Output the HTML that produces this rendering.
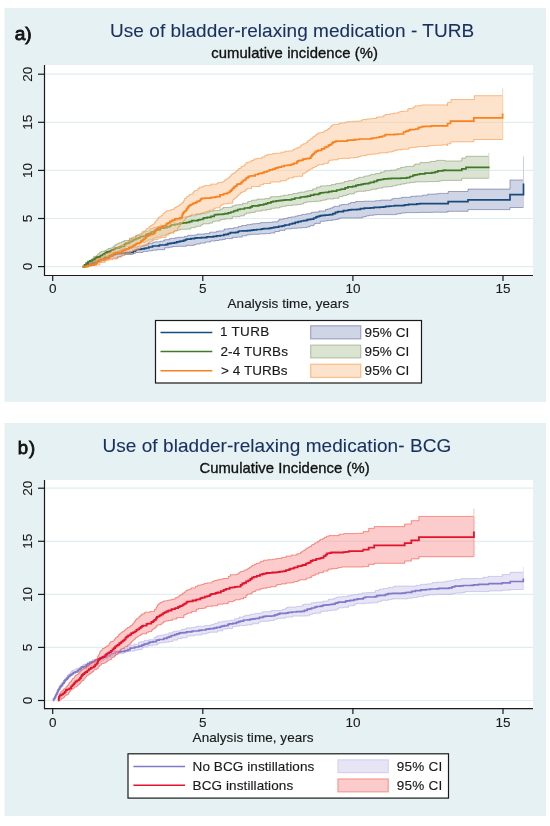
<!DOCTYPE html><html><head><meta charset="utf-8"><style>html,body{margin:0;padding:0;background:#fff;}svg{display:block;will-change:transform;}text{font-family:"Liberation Sans",sans-serif;}</style></head><body>
<svg width="550" height="826" viewBox="0 0 550 826">
<rect width="550" height="826" fill="#fff"/>
<rect x="4.5" y="8" width="541.5" height="394" fill="#e6f1f3"/>
<rect x="45" y="65" width="488" height="210" fill="#fff"/>
<line x1="45" x2="533" y1="266.6" y2="266.6" stroke="#e1eef0" stroke-width="1.2"/>
<line x1="45" x2="533" y1="218.5" y2="218.5" stroke="#e1eef0" stroke-width="1.2"/>
<line x1="45" x2="533" y1="170.4" y2="170.4" stroke="#e1eef0" stroke-width="1.2"/>
<line x1="45" x2="533" y1="122.3" y2="122.3" stroke="#e1eef0" stroke-width="1.2"/>
<line x1="45" x2="533" y1="74.2" y2="74.2" stroke="#e1eef0" stroke-width="1.2"/>
<path d="M82.7 266.6L83.9 266.6L83.9 266.4L85.8 266.4L85.8 264.7L87.4 264.7L87.4 263.7L89.2 263.7L89.2 263.1L90.3 263.1L90.3 261.6L92.3 261.6L92.3 260.5L94.2 260.5L94.2 258.7L97.2 258.7L97.2 258.1L104.3 258.1L104.3 255.4L105.4 255.4L105.4 255.2L110.6 255.2L110.6 253.2L112.6 253.2L112.6 252.7L113.7 252.7L113.7 252L116.7 252L116.7 251.4L118.7 251.4L118.7 250.5L120.7 250.5L120.7 250.1L123 250.1L123 248.9L127.8 248.9L127.8 248.2L131.7 248.2L131.7 247.1L137.2 247.1L137.2 246.6L138.7 246.6L138.7 246L142.9 246L142.9 245.1L148.2 245.1L148.2 243.3L152.9 243.3L152.9 242.2L155.3 242.2L155.3 241.8L160.2 241.8L160.2 241.2L163.5 241.2L163.5 240.5L164.7 240.5L164.7 239.7L169.2 239.7L169.2 238.7L171 238.7L171 238.4L175.2 238.4L175.2 237.8L177.9 237.8L177.9 237.3L181.2 237.3L181.2 237.2L184.5 237.2L184.5 236.4L187.7 236.4L187.7 235.3L194.3 235.3L194.3 235L197.1 235L197.1 234.1L204.8 234.1L204.8 233.6L209.7 233.6L209.7 232.2L216.6 232.2L216.6 231.3L218.8 231.3L218.8 230.9L224.1 230.9L224.1 229L228.7 229L228.7 228.5L233.6 228.5L233.6 227.7L238.3 227.7L238.3 226.5L241.8 226.5L241.8 225.5L246.6 225.5L246.6 224.7L249.9 224.7L249.9 224.3L252.5 224.3L252.5 223.8L255.9 223.8L255.9 223.6L259.7 223.6L259.7 223.1L260.8 223.1L260.8 222.6L267.5 222.6L267.5 222.4L272.1 222.4L272.1 221.9L274.2 221.9L274.2 221.8L278.3 221.8L278.3 220.2L279.3 220.2L279.3 219.3L283.7 219.3L283.7 218.4L287.8 218.4L287.8 217.5L289.5 217.5L289.5 217.4L291.2 217.4L291.2 216.9L295.4 216.9L295.4 216.1L297.9 216.1L297.9 215.6L299 215.6L299 215.4L301.9 215.4L301.9 214.4L306.7 214.4L306.7 213.7L310.4 213.7L310.4 213.3L311.5 213.3L311.5 212.3L314.9 212.3L314.9 212.1L318.9 212.1L318.9 211L325.5 211L325.5 209.5L327.5 209.5L327.5 208.9L330.3 208.9L330.3 208L332.7 208L332.7 207.2L334 207.2L334 206.4L339.4 206.4L339.4 205L341.7 205L341.7 204.6L344.1 204.6L344.1 204.4L348.5 204.4L348.5 203.6L350.6 203.6L350.6 202.5L355.6 202.5L355.6 201.5L363.8 201.5L363.8 201.2L375.6 201.2L375.6 200.7L380.5 200.7L380.5 200.1L391.8 200.1L391.8 198.9L393.7 198.9L393.7 198.4L399.1 198.4L399.1 198.2L401.7 198.2L401.7 197.3L410.9 197.3L410.9 196.3L415.9 196.3L415.9 196L422.5 196L422.5 195.2L427.6 195.2L427.6 194.2L432 194.2L432 194.1L436.8 194.1L436.8 193.7L439.3 193.7L439.3 193.4L448.2 193.4L448.2 193.5L448.2 193.5L448.2 191.5L468 191.5L468 189.1L510 189.1L510 180L523.5 180L523.5 180L523.5 207.5L523.5 207.5L510 207.5L510 209.6L468 209.6L468 211.3L448.2 211.3L448.2 212L448.2 212L448.2 211.6L447.3 211.6L447.3 212.2L432.7 212.2L432.7 212.4L418.2 212.4L418.2 212.6L405.7 212.6L405.7 213L401.1 213L401.1 213.7L399.3 213.7L399.3 213.9L396.4 213.9L396.4 214.6L376.8 214.6L376.8 214.8L374.8 214.8L374.8 215L373.3 215L373.3 215.3L369.1 215.3L369.1 215.9L366.2 215.9L366.2 216.6L365.2 216.6L365.2 216.9L362.3 216.9L362.3 217.9L358.1 217.9L358.1 218L340.2 218L340.2 218.4L339 218.4L339 219.2L336.3 219.2L336.3 219.8L332.6 219.8L332.6 220.4L327.3 220.4L327.3 221L324 221L324 221.3L320.3 221.3L320.3 223.4L315.4 223.4L315.4 224L313.9 224L313.9 225.7L310 225.7L310 226.9L306.8 226.9L306.8 227.6L302 227.6L302 228L296.9 228L296.9 228.3L292.5 228.3L292.5 228.5L291.3 228.5L291.3 228.9L286 228.9L286 229.1L284.9 229.1L284.9 230.4L279.4 230.4L279.4 231.5L274.9 231.5L274.9 233L270.2 233L270.2 233.6L266.6 233.6L266.6 233.7L264.8 233.7L264.8 233.9L258.8 233.9L258.8 234.3L250.5 234.3L250.5 234.8L246.6 234.8L246.6 235.8L242.2 235.8L242.2 237.1L237.1 237.1L237.1 237.4L232.4 237.4L232.4 238.6L225.3 238.6L225.3 239.4L222.9 239.4L222.9 239.9L219 239.9L219 240.5L215.7 240.5L215.7 241L210.4 241L210.4 242L205.3 242L205.3 243.1L200.2 243.1L200.2 244L196.1 244L196.1 244.7L194.1 244.7L194.1 245.4L186.3 245.4L186.3 246.3L178.6 246.3L178.6 246.4L175.4 246.4L175.4 246.5L172.2 246.5L172.2 247.2L169.1 247.2L169.1 247.8L164.7 247.8L164.7 249.7L156.8 249.7L156.8 250.2L152.4 250.2L152.4 250.8L148 250.8L148 251.4L143 251.4L143 252.5L135.7 252.5L135.7 253.3L133.2 253.3L133.2 254.3L131.2 254.3L131.2 254.5L125.1 254.5L125.1 255.1L122 255.1L122 256L120.8 256L120.8 257L117.8 257L117.8 258.2L112.6 258.2L112.6 258.3L108.3 258.3L108.3 259.2L105.4 259.2L105.4 260.8L101.8 260.8L101.8 261.8L98 261.8L98 263.4L94 263.4L94 264.5L89.3 264.5L89.3 265.6L88 265.6L88 266.6L82.7 266.6Z" fill="#a1abcb" fill-opacity="0.5" stroke="#475591" stroke-opacity="0.5" stroke-width="1" stroke-linejoin="miter"/>
<line x1="523.5" x2="523.5" y1="156.3" y2="208" stroke="#ccd0e1" stroke-width="1"/>
<path d="M82.7 266.6L85.3 266.6L85.3 265.7L88.4 265.7L88.4 264.7L91.3 264.7L91.3 263.7L92.4 263.7L92.4 262.9L95.8 262.9L95.8 261.4L99.2 261.4L99.2 259.7L101.4 259.7L101.4 258.6L103.8 258.6L103.8 257.9L104.8 257.9L104.8 257.3L109.6 257.3L109.6 255.8L112.6 255.8L112.6 254.7L115.2 254.7L115.2 253.8L117.8 253.8L117.8 253.6L121.3 253.6L121.3 253.2L125.5 253.2L125.5 252.7L129.8 252.7L129.8 252.4L133.2 252.4L133.2 251.2L135.1 251.2L135.1 250.3L136.5 250.3L136.5 249.5L138.3 249.5L138.3 249.4L141.1 249.4L141.1 248.9L144.3 248.9L144.3 248.3L146.1 248.3L146.1 248L148.9 248L148.9 247L152.5 247L152.5 246L158.4 246L158.4 245.8L159.4 245.8L159.4 245L165.8 245L165.8 244.6L167.7 244.6L167.7 243.7L170.1 243.7L170.1 243.3L171.4 243.3L171.4 243.1L174.4 243.1L174.4 242.6L176.8 242.6L176.8 241.8L179.4 241.8L179.4 241.4L181.2 241.4L181.2 241.2L183.7 241.2L183.7 240.4L185.5 240.4L185.5 239.6L186.7 239.6L186.7 239.1L190.9 239.1L190.9 238.6L194.5 238.6L194.5 238.2L196.5 238.2L196.5 237.8L201.3 237.8L201.3 237.7L206.7 237.7L206.7 236.8L213.5 236.8L213.5 236.3L216.6 236.3L216.6 235.9L220.2 235.9L220.2 235.5L223.8 235.5L223.8 234.6L226 234.6L226 234.3L228.3 234.3L228.3 233.5L230.3 233.5L230.3 232.7L235.8 232.7L235.8 232.3L238.1 232.3L238.1 231.5L239.3 231.5L239.3 231L242.4 231L242.4 230.9L244.3 230.9L244.3 230.8L247.3 230.8L247.3 230.6L250.1 230.6L250.1 230.4L252 230.4L252 230.2L253.7 230.2L253.7 229.8L256.7 229.8L256.7 229.5L261.2 229.5L261.2 229.2L262.2 229.2L262.2 228.9L263.9 228.9L263.9 228.7L266.1 228.7L266.1 228.6L268.8 228.6L268.8 228.3L270.7 228.3L270.7 227.8L273.6 227.8L273.6 227.4L275.5 227.4L275.5 227.2L278.7 227.2L278.7 226.4L282.3 226.4L282.3 225.9L284.6 225.9L284.6 225.2L286.1 225.2L286.1 225L289.5 225L289.5 224L292.3 224L292.3 223.4L295.2 223.4L295.2 222.3L298.2 222.3L298.2 221.7L301 221.7L301 221L303.6 221L303.6 220.7L306.2 220.7L306.2 220.3L307.3 220.3L307.3 219.6L309.5 219.6L309.5 219.4L311 219.4L311 219.2L313.7 219.2L313.7 218L315.9 218L315.9 217.2L317 217.2L317 216.7L318.9 216.7L318.9 216.2L320.4 216.2L320.4 215.6L322.6 215.6L322.6 215.3L325.2 215.3L325.2 215.1L327.8 215.1L327.8 215L329.5 215L329.5 214.6L332.8 214.6L332.8 213.6L335.4 213.6L335.4 212.4L337.8 212.4L337.8 211.7L340.3 211.7L340.3 211.6L343.4 211.6L343.4 210.7L346.5 210.7L346.5 210.5L348.5 210.5L348.5 209.9L351.1 209.9L351.1 209.7L357.1 209.7L357.1 209.4L360.4 209.4L360.4 208.6L364.3 208.6L364.3 208.1L370.5 208.1L370.5 207.8L374.1 207.8L374.1 207.4L380.1 207.4L380.1 207.1L383.7 207.1L383.7 206.8L385.7 206.8L385.7 206.4L389.3 206.4L389.3 206.1L391 206.1L391 206L394.5 206L394.5 205.6L403.3 205.6L403.3 205.3L405 205.3L405 204.8L408.6 204.8L408.6 204.4L416.8 204.4L416.8 203.8L419.8 203.8L419.8 203.6L422.1 203.6L422.1 203.6L448.2 203.6L448.2 203.6L448.2 203.6L448.2 201.7L468 201.7L468 199.8L510 199.8L510 194.6L523.5 194.6L523.5 194.6L523.5 194.6L523.5 183.5" fill="none" stroke="#184a7d" stroke-width="1.7" stroke-linejoin="miter"/>
<path d="M82.7 266.6L84.1 266.6L84.1 265.4L85.6 265.4L85.6 264L87 264L87 262.8L88.3 262.8L88.3 261.7L89.7 261.7L89.7 260.8L90.8 260.8L90.8 259.4L91.9 259.4L91.9 258.8L93.4 258.8L93.4 256.7L94.8 256.7L94.8 256.3L96.6 256.3L96.6 255.3L97.8 255.3L97.8 253.8L99.4 253.8L99.4 252.4L100.7 252.4L100.7 251.7L101.7 251.7L101.7 251.3L103.2 251.3L103.2 251.2L104.9 251.2L104.9 250.5L106.4 250.5L106.4 249.8L108 249.8L108 248.5L110.2 248.5L110.2 248.1L112.2 248.1L112.2 247.2L113.6 247.2L113.6 246L114.9 246L114.9 244.7L116.8 244.7L116.8 243.8L118.9 243.8L118.9 242.8L121 242.8L121 242.4L122 242.4L122 241.5L124.1 241.5L124.1 240.5L129.5 240.5L129.5 238.2L130.8 238.2L130.8 238L135.4 238L135.4 235.8L136.7 235.8L136.7 235.1L142.1 235.1L142.1 233.3L143.6 233.3L143.6 232.2L145.1 232.2L145.1 231.1L149.7 231.1L149.7 228.8L153.2 228.8L153.2 227.5L155 227.5L155 227.3L156.6 227.3L156.6 227L158.1 227L158.1 226.3L160.1 226.3L160.1 225.2L165.5 225.2L165.5 223.6L167.8 223.6L167.8 223.2L169.8 223.2L169.8 222.1L174.6 222.1L174.6 220.3L178 220.3L178 219.2L182.5 219.2L182.5 217.8L184.9 217.8L184.9 216.7L188.4 216.7L188.4 216.4L191 216.4L191 215.7L196.3 215.7L196.3 214.5L199.9 214.5L199.9 214.2L201.7 214.2L201.7 213.1L206.8 213.1L206.8 212.2L209 212.2L209 211.1L213.3 211.1L213.3 210.5L220.1 210.5L220.1 209L223 209L223 207.5L228.4 207.5L228.4 207.3L232.1 207.3L232.1 205.9L233.9 205.9L233.9 205.7L235.2 205.7L235.2 204.9L238.7 204.9L238.7 204.6L242.5 204.6L242.5 203.3L247.6 203.3L247.6 201.8L248.7 201.8L248.7 201.4L251.7 201.4L251.7 200.3L253.5 200.3L253.5 200.1L257.1 200.1L257.1 199.1L265.1 199.1L265.1 198.6L269.2 198.6L269.2 197.8L270.9 197.8L270.9 196.7L277.2 196.7L277.2 196.6L280.4 196.6L280.4 195.9L282.8 195.9L282.8 195.8L284.1 195.8L284.1 195.2L288.5 195.2L288.5 194.5L292.8 194.5L292.8 193.5L297.3 193.5L297.3 192.8L299.9 192.8L299.9 192.1L305 192.1L305 191.2L307.9 191.2L307.9 190.6L312.7 190.6L312.7 188.9L316.6 188.9L316.6 187.2L320.2 187.2L320.2 186L321.5 186L321.5 185.9L327 185.9L327 185.6L331.3 185.6L331.3 184.6L335.6 184.6L335.6 183.6L338.6 183.6L338.6 183.3L340 183.3L340 183.2L341.1 183.2L341.1 182.8L344.3 182.8L344.3 181.5L348.4 181.5L348.4 180.5L352.2 180.5L352.2 180.3L354.3 180.3L354.3 178.9L356.7 178.9L356.7 178.5L358.6 178.5L358.6 177.4L363.7 177.4L363.7 176.2L366.6 176.2L366.6 175.9L369.1 175.9L369.1 175.2L371 175.2L371 174.4L375.6 174.4L375.6 173.5L380.6 173.5L380.6 172.1L384.2 172.1L384.2 171L385.8 171L385.8 170.7L390.6 170.7L390.6 170.2L394.8 170.2L394.8 169.9L397 169.9L397 168.7L400.1 168.7L400.1 167.7L402 167.7L402 167.2L405.9 167.2L405.9 166.4L413.7 166.4L413.7 165.1L415 165.1L415 164.1L420 164.1L420 162.6L427.6 162.6L427.6 162.3L430.7 162.3L430.7 161.5L435.4 161.5L435.4 160.9L437 160.9L437 160.4L440.9 160.4L440.9 160.4L445 160.4L445 161L461.8 161L461.8 158L466 158L466 156.3L488.7 156.3L488.7 156.3L488.7 178.3L488.7 178.3L461.8 178.3L461.8 180.4L445 180.4L445 180.3L442.7 180.3L442.7 180.9L438.9 180.9L438.9 181.5L434.4 181.5L434.4 181.6L428 181.6L428 181.8L420.2 181.8L420.2 181.9L415 181.9L415 182.4L410.4 182.4L410.4 183L406.2 183L406.2 183.7L403.9 183.7L403.9 184.1L400.6 184.1L400.6 184.9L396.3 184.9L396.3 185.8L392.3 185.8L392.3 186.7L386.9 186.7L386.9 187.1L382.9 187.1L382.9 188.1L378.4 188.1L378.4 188.6L376.4 188.6L376.4 189.3L371.6 189.3L371.6 190.1L369.4 190.1L369.4 190.6L365.7 190.6L365.7 191.2L364 191.2L364 191.3L358.7 191.3L358.7 191.6L356.8 191.6L356.8 192.2L354.2 192.2L354.2 193.9L349 193.9L349 194.5L346.9 194.5L346.9 195.5L342.9 195.5L342.9 196.6L339.9 196.6L339.9 196.9L338.7 196.9L338.7 198.3L333.5 198.3L333.5 199L326.7 199L326.7 199.9L325.1 199.9L325.1 200.1L322.6 200.1L322.6 200.6L320.5 200.6L320.5 201.2L316.4 201.2L316.4 201.4L314.8 201.4L314.8 201.6L311.4 201.6L311.4 201.9L306.2 201.9L306.2 202.7L303.6 202.7L303.6 204L300.9 204L300.9 204.5L297.5 204.5L297.5 205L292.4 205L292.4 205.5L286.3 205.5L286.3 206.3L282 206.3L282 207.1L279.4 207.1L279.4 208L274.8 208L274.8 208.3L271.2 208.3L271.2 209.4L266.8 209.4L266.8 210.2L261.6 210.2L261.6 211.1L258.1 211.1L258.1 211.2L255.2 211.2L255.2 212.4L250.7 212.4L250.7 213.1L246.6 213.1L246.6 214.1L244.3 214.1L244.3 215.8L240.1 215.8L240.1 216.7L236.8 216.7L236.8 216.8L234.6 216.8L234.6 216.8L232.3 216.8L232.3 218.8L225.1 218.8L225.1 219.4L221.9 219.4L221.9 219.9L219.9 219.9L219.9 221.1L215.1 221.1L215.1 221.3L212.7 221.3L212.7 223.1L209.4 223.1L209.4 223.8L202.8 223.8L202.8 225L200.7 225L200.7 226.3L196.3 226.3L196.3 227.1L195.2 227.1L195.2 227.6L190.9 227.6L190.9 229L188.2 229L188.2 229.1L186.5 229.1L186.5 229.3L180.2 229.3L180.2 230L178.2 230L178.2 230.4L177 230.4L177 230.9L174.4 230.9L174.4 231.8L173.3 231.8L173.3 232.3L171.5 232.3L171.5 232.9L170 232.9L170 233.5L167.3 233.5L167.3 234.4L165.3 234.4L165.3 235.4L161.2 235.4L161.2 237L156.5 237L156.5 237.9L153.9 237.9L153.9 238.8L152.4 238.8L152.4 239.9L148.3 239.9L148.3 241L145.7 241L145.7 242.4L140.3 242.4L140.3 243L136 243L136 244.6L133.3 244.6L133.3 245.9L129.6 245.9L129.6 246.9L125 246.9L125 249L120.9 249L120.9 251L117.1 251L117.1 252L115.5 252L115.5 252.9L114 252.9L114 254.4L108.6 254.4L108.6 256.5L104 256.5L104 259.4L99.2 259.4L99.2 260.9L96.7 260.9L96.7 261.6L95.3 261.6L95.3 261.8L94.3 261.8L94.3 261.9L93.1 261.9L93.1 262.6L91.9 262.6L91.9 263.3L90.2 263.3L90.2 264L88.4 264L88.4 264.1L87.1 264.1L87.1 264.7L86.1 264.7L86.1 266.1L84.3 266.1L84.3 266.6L82.7 266.6Z" fill="#b7c7a7" fill-opacity="0.5" stroke="#738d55" stroke-opacity="0.5" stroke-width="1" stroke-linejoin="miter"/>
<line x1="488.7" x2="488.7" y1="153" y2="178.3" stroke="#d8e0d0" stroke-width="1"/>
<path d="M82.7 266.6L84.5 266.6L84.5 264.8L86.2 264.8L86.2 263.2L88 263.2L88 261.6L90 261.6L90 260.9L92 260.9L92 260.4L93.3 260.4L93.3 259.4L95.1 259.4L95.1 258.1L96.5 258.1L96.5 257.2L98.5 257.2L98.5 256.8L100.4 256.8L100.4 255.5L102.5 255.5L102.5 254.5L103.8 254.5L103.8 253.9L105.3 253.9L105.3 252.7L107 252.7L107 251.9L108.7 251.9L108.7 251.6L110.5 251.6L110.5 250.5L112.5 250.5L112.5 249.9L114.1 249.9L114.1 249.4L115.1 249.4L115.1 248.4L116.6 248.4L116.6 248.2L119.4 248.2L119.4 247.3L121.1 247.3L121.1 246.5L124.4 246.5L124.4 244.6L125.7 244.6L125.7 243.6L127.3 243.6L127.3 243.4L129 243.4L129 242.5L130.6 242.5L130.6 241.4L132.7 241.4L132.7 240.3L134 240.3L134 239.7L136 239.7L136 238.7L138.1 238.7L138.1 237.8L140.2 237.8L140.2 236.7L143.6 236.7L143.6 236L145.8 236L145.8 234.7L147.4 234.7L147.4 233.9L149.4 233.9L149.4 233.4L151.3 233.4L151.3 232L152.3 232L152.3 231.9L154.5 231.9L154.5 230.5L156.8 230.5L156.8 229.8L160.3 229.8L160.3 228.2L164 228.2L164 227.6L167 227.6L167 226.8L169.8 226.8L169.8 225.8L171 225.8L171 225L172.9 225L172.9 224.9L174.9 224.9L174.9 224.3L177.5 224.3L177.5 224L180 224L180 223.1L183.1 223.1L183.1 222.8L186.5 222.8L186.5 222.5L187.5 222.5L187.5 222.3L189.4 222.3L189.4 221.6L191.8 221.6L191.8 220.6L198 220.6L198 219.9L199.9 219.9L199.9 219.5L202.7 219.5L202.7 218.6L203.9 218.6L203.9 217.9L207.1 217.9L207.1 217.3L210.9 217.3L210.9 216.3L214.2 216.3L214.2 215L215.5 215L215.5 214.7L218.4 214.7L218.4 214.3L222.7 214.3L222.7 214.1L223.7 214.1L223.7 214L225.1 214L225.1 213.6L228.2 213.6L228.2 212.8L230.8 212.8L230.8 212L233.7 212L233.7 211L235.3 211L235.3 210.6L237.7 210.6L237.7 209.5L240 209.5L240 209L244.5 209L244.5 208L247.7 208L247.7 207.8L250.4 207.8L250.4 206.9L252.2 206.9L252.2 205.9L257.8 205.9L257.8 205.6L259.1 205.6L259.1 205.2L260.6 205.2L260.6 204.8L263.7 204.8L263.7 204.1L266.1 204.1L266.1 203.7L267.7 203.7L267.7 202.8L270.9 202.8L270.9 201.8L273 201.8L273 201.4L276.3 201.4L276.3 200.9L278.8 200.9L278.8 200.6L281 200.6L281 200.3L283.2 200.3L283.2 200.2L285.4 200.2L285.4 199.8L291.5 199.8L291.5 199.1L294.8 199.1L294.8 198L300.1 198L300.1 197.3L301.2 197.3L301.2 197L303.4 197L303.4 196.8L305.4 196.8L305.4 196.6L307.5 196.6L307.5 196.2L310.5 196.2L310.5 195.1L313.9 195.1L313.9 194.3L318.7 194.3L318.7 193.7L320.2 193.7L320.2 192.9L323.2 192.9L323.2 192.5L325.9 192.5L325.9 192.3L328.7 192.3L328.7 191.7L331.9 191.7L331.9 191.2L336.7 191.2L336.7 190L340 190L340 189.5L341.7 189.5L341.7 189.2L345.1 189.2L345.1 187.8L347.9 187.8L347.9 186.9L352.8 186.9L352.8 186.3L355.9 186.3L355.9 185.3L358 185.3L358 184.9L361.1 184.9L361.1 184.4L363.3 184.4L363.3 183.9L365.4 183.9L365.4 183.6L368.7 183.6L368.7 183L370.5 183L370.5 182.3L374 182.3L374 181.3L376.8 181.3L376.8 180.3L378.1 180.3L378.1 179.9L380.9 179.9L380.9 179.5L383.6 179.5L383.6 178.9L388 178.9L388 178.7L391.2 178.7L391.2 178.3L400.8 178.3L400.8 178.2L403.8 178.2L403.8 178.1L406.7 178.1L406.7 177.7L409.8 177.7L409.8 176.5L412.8 176.5L412.8 175.4L414.7 175.4L414.7 174.9L417.1 174.9L417.1 174.5L419.6 174.5L419.6 173.8L425 173.8L425 173.2L431.9 173.2L431.9 172.6L435.2 172.6L435.2 171.9L437.9 171.9L437.9 170.9L439.9 170.9L439.9 170.9L443 170.9L443 170.3L444.5 170.3L444.5 170L445 170L445 170.3L461.8 170.3L461.8 168.9L466 168.9L466 167.4L488.7 167.4L488.7 167.4L488.7 167.4L488.7 166.5" fill="none" stroke="#3f7a29" stroke-width="1.7" stroke-linejoin="miter"/>
<path d="M82.7 266.6L83.9 266.6L83.9 266.3L85.7 266.3L85.7 265.4L86.9 265.4L86.9 265.1L88.9 265.1L88.9 264L90.5 264L90.5 262.8L91.5 262.8L91.5 262.2L93.2 262.2L93.2 260.8L95.2 260.8L95.2 259.7L96.4 259.7L96.4 258.5L98.5 258.5L98.5 257.9L100.6 257.9L100.6 257L101.6 257L101.6 256.2L103.2 256.2L103.2 254.8L105.3 254.8L105.3 253.6L106.5 253.6L106.5 253.5L107.7 253.5L107.7 253.4L109.2 253.4L109.2 252.4L110.6 252.4L110.6 251.4L111.9 251.4L111.9 249.9L113.9 249.9L113.9 248.5L115.8 248.5L115.8 247.2L118 247.2L118 246.7L119.9 246.7L119.9 246L121.6 246L121.6 245.2L122.7 245.2L122.7 244.4L124.7 244.4L124.7 242.7L126.8 242.7L126.8 242L128.3 242L128.3 240.7L129.8 240.7L129.8 239.6L131.9 239.6L131.9 238.1L132.9 238.1L132.9 237L134.8 237L134.8 236.7L136.4 236.7L136.4 235.6L138 235.6L138 234.9L139.3 234.9L139.3 234.1L141 234.1L141 233L142.2 233L142.2 231.6L143.6 231.6L143.6 231.2L145 231.2L145 230.2L146.4 230.2L146.4 228.6L147.5 228.6L147.5 228.2L149 228.2L149 226.6L150.4 226.6L150.4 225.5L151.9 225.5L151.9 224.8L153.4 224.8L153.4 223.9L154.6 223.9L154.6 222.4L155.8 222.4L155.8 220.7L157 220.7L157 218.9L158.5 218.9L158.5 217.1L159.6 217.1L159.6 216.8L161.2 216.8L161.2 215.4L162.9 215.4L162.9 213.5L164.2 213.5L164.2 212.4L165.7 212.4L165.7 211.2L166.8 211.2L166.8 210.7L168.9 210.7L168.9 210.6L170.8 210.6L170.8 209.6L172.1 209.6L172.1 209.6L173.7 209.6L173.7 208.6L174.8 208.6L174.8 207.3L176.7 207.3L176.7 206.4L178.7 206.4L178.7 205.1L180.2 205.1L180.2 204L182.1 204L182.1 202.3L183.7 202.3L183.7 200.4L184.6 200.4L184.6 198.5L185.5 198.5L185.5 198.1L186.4 198.1L186.4 196.9L187.6 196.9L187.6 196.2L189.3 196.2L189.3 194.4L190.8 194.4L190.8 194.1L192.9 194.1L192.9 192.3L194 192.3L194 191.1L195 191.1L195 190.5L196.2 190.5L196.2 190.3L197.9 190.3L197.9 188.4L199.6 188.4L199.6 187.1L202.8 187.1L202.8 186.2L204.5 186.2L204.5 185.6L207.2 185.6L207.2 185.5L210.7 185.5L210.7 184.1L212.6 184.1L212.6 184.1L217.1 184.1L217.1 183.1L218.1 183.1L218.1 182.7L219.4 182.7L219.4 182.6L221.2 182.6L221.2 182.2L223.3 182.2L223.3 181.4L224.7 181.4L224.7 179.8L226.1 179.8L226.1 178.9L228.2 178.9L228.2 177.6L229.5 177.6L229.5 176.6L230.8 176.6L230.8 174.8L232 174.8L232 173.8L233.4 173.8L233.4 173.3L234.8 173.3L234.8 172.2L236.2 172.2L236.2 170.8L237.2 170.8L237.2 170.1L238.6 170.1L238.6 168.5L240 168.5L240 168.1L241.2 168.1L241.2 166.5L242.2 166.5L242.2 166.2L244.2 166.2L244.2 164.7L245.9 164.7L245.9 162.7L247.7 162.7L247.7 162L251 162L251 160.6L253.8 160.6L253.8 159.2L255 159.2L255 158.8L257.1 158.8L257.1 158.4L261.8 158.4L261.8 157L264.9 157L264.9 155.3L267.6 155.3L267.6 154.3L271.4 154.3L271.4 154.1L272.8 154.1L272.8 153.6L276 153.6L276 153.2L281.1 153.2L281.1 152.2L284.9 152.2L284.9 151.2L288.9 151.2L288.9 150.9L293 150.9L293 149.4L295.1 149.4L295.1 148.8L296.6 148.8L296.6 147.8L298.6 147.8L298.6 147.1L300.8 147.1L300.8 144.9L303.2 144.9L303.2 143.8L305.9 143.8L305.9 142.5L307.6 142.5L307.6 140.7L308.9 140.7L308.9 140.3L310.2 140.3L310.2 139L311.3 139L311.3 138.5L312.8 138.5L312.8 136.7L314.2 136.7L314.2 135.9L316 135.9L316 134.3L317.9 134.3L317.9 133L320 133L320 132.7L321.7 132.7L321.7 132.3L323.6 132.3L323.6 131.4L325 131.4L325 130.5L327.1 130.5L327.1 129.3L328.6 129.3L328.6 128.5L330 128.5L330 126.8L331.4 126.8L331.4 125.3L332.6 125.3L332.6 125L333.7 125L333.7 124.4L338.9 124.4L338.9 123.5L339.9 123.5L339.9 123.1L341.1 123.1L341.1 123L345.3 123L345.3 122.1L347.7 122.1L347.7 121.7L353.4 121.7L353.4 121.2L358 121.2L358 121.1L361.4 121.1L361.4 119.9L363.2 119.9L363.2 119.6L366.7 119.6L366.7 118.9L371.3 118.9L371.3 118.5L376.5 118.5L376.5 117.3L377.6 117.3L377.6 116.9L383.3 116.9L383.3 115.7L385.1 115.7L385.1 114.5L389.8 114.5L389.8 113.8L393.6 113.8L393.6 113.1L398.2 113.1L398.2 112L400.4 112L400.4 111.5L402.8 111.5L402.8 111.2L407.8 111.2L407.8 108.9L409.1 108.9L409.1 108.6L413.1 108.6L413.1 107L415.3 107L415.3 105.8L416.5 105.8L416.5 105.8L420.6 105.8L420.6 105.3L422.3 105.3L422.3 104.9L447.6 104.9L447.6 105.5L447.6 105.5L447.6 102.4L451 102.4L451 99.5L474.3 99.5L474.3 95.7L502.6 95.7L502.6 95.7L502.6 139.5L502.6 139.5L473.8 139.5L473.8 141.8L450.9 141.8L450.9 143.8L447.6 143.8L447.6 145.6L447.6 145.6L447.6 144.9L442.1 144.9L442.1 145.3L435.1 145.3L435.1 145.6L428.9 145.6L428.9 146.2L427.9 146.2L427.9 146.5L419.4 146.5L419.4 146.8L416.3 146.8L416.3 147.4L411.2 147.4L411.2 147.9L408.7 147.9L408.7 149.2L402.2 149.2L402.2 149.9L396.3 149.9L396.3 150.7L393.9 150.7L393.9 151.3L392.3 151.3L392.3 152L387.9 152L387.9 152.9L379.1 152.9L379.1 153.8L374.4 153.8L374.4 154.3L371.6 154.3L371.6 154.4L369.8 154.4L369.8 154.7L366.8 154.7L366.8 155.4L364.4 155.4L364.4 155.8L360.8 155.8L360.8 156.5L358.5 156.5L358.5 157.4L354.6 157.4L354.6 157.9L349.5 157.9L349.5 158.4L341.8 158.4L341.8 158.6L338 158.6L338 159.9L332.9 159.9L332.9 160.2L329.6 160.2L329.6 161.1L328.3 161.1L328.3 163.4L323.6 163.4L323.6 164.7L318.4 164.7L318.4 165.3L316.8 165.3L316.8 166.5L315.1 166.5L315.1 167.3L314 167.3L314 167.7L312.3 167.7L312.3 169.1L309.6 169.1L309.6 170.3L307.9 170.3L307.9 171.6L306.1 171.6L306.1 173.1L304.2 173.1L304.2 173.5L302.7 173.5L302.7 176.3L297.4 176.3L297.4 176.8L293.2 176.8L293.2 178L288.5 178L288.5 179.2L286.2 179.2L286.2 180.7L282.9 180.7L282.9 180.8L280.3 180.8L280.3 182L270.7 182L270.7 183.5L263.5 183.5L263.5 184.8L260.1 184.8L260.1 186.5L255.3 186.5L255.3 186.5L251.5 186.5L251.5 188.6L247 188.6L247 189.8L245.4 189.8L245.4 191.4L243.7 191.4L243.7 191.8L242.6 191.8L242.6 192.5L240.6 192.5L240.6 194L238.9 194L238.9 195.5L237.6 195.5L237.6 196.9L236.3 196.9L236.3 198.1L234.9 198.1L234.9 198.9L233.8 198.9L233.8 200L232.6 200L232.6 203.2L227.8 203.2L227.8 203.7L226.6 203.7L226.6 203.9L224.5 203.9L224.5 203.9L223.1 203.9L223.1 204.7L221.6 204.7L221.6 205.7L220.2 205.7L220.2 207.9L215.3 207.9L215.3 208.8L213.3 208.8L213.3 210.1L209.6 210.1L209.6 211.3L206.6 211.3L206.6 211.6L204.8 211.6L204.8 213L201 213L201 213.5L199.9 213.5L199.9 213.9L196.2 213.9L196.2 214.4L191.6 214.4L191.6 215.5L189.9 215.5L189.9 216.1L188.3 216.1L188.3 216.9L186.6 216.9L186.6 218L185.7 218L185.7 219.2L184.9 219.2L184.9 220.5L184 220.5L184 221L183.2 221L183.2 222.7L182.1 222.7L182.1 224.3L180.9 224.3L180.9 224.9L179.8 224.9L179.8 226.7L178.6 226.7L178.6 228L177.4 228L177.4 230.8L174 230.8L174 233.2L168.9 233.2L168.9 235.1L166.1 235.1L166.1 237.4L160.8 237.4L160.8 238.1L158 238.1L158 239.4L154 239.4L154 240.4L152.2 240.4L152.2 241.5L150.6 241.5L150.6 242.1L149.2 242.1L149.2 242.9L147.8 242.9L147.8 244.5L145.7 244.5L145.7 245.3L144.2 245.3L144.2 246.4L142.6 246.4L142.6 246.4L141.5 246.4L141.5 247.1L140.5 247.1L140.5 248.8L138.7 248.8L138.7 249.2L137.5 249.2L137.5 250.3L135.4 250.3L135.4 250.8L134 250.8L134 250.9L132.7 250.9L132.7 251.7L130.8 251.7L130.8 252.7L128.7 252.7L128.7 253.3L126.6 253.3L126.6 254.1L124.5 254.1L124.5 255.3L122.1 255.3L122.1 256.7L117.2 256.7L117.2 258.9L113 258.9L113 259.7L108.9 259.7L108.9 260.4L105.2 260.4L105.2 262.6L99.9 262.6L99.9 264.9L94.9 264.9L94.9 265.5L90.9 265.5L90.9 265.6L88 265.6L88 266.6L82.7 266.6Z" fill="#fbc797" fill-opacity="0.5" stroke="#f58121" stroke-opacity="0.5" stroke-width="1" stroke-linejoin="miter"/>
<line x1="502.6" x2="502.6" y1="88.4" y2="139.6" stroke="#fcd3b1" stroke-width="1"/>
<path d="M82.7 266.6L87.9 266.6L87.9 265.7L91.1 265.7L91.1 265.1L93.9 265.1L93.9 264.7L96 264.7L96 263.2L97 263.2L97 262.1L97.8 262.1L97.8 260.5L100.9 260.5L100.9 259.9L104 259.9L104 258.8L106 258.8L106 258.3L109 258.3L109 256.5L110.7 256.5L110.7 255.6L112.2 255.6L112.2 254.7L113.7 254.7L113.7 253.3L116.2 253.3L116.2 252.9L118.6 252.9L118.6 252.4L121.8 252.4L121.8 250.9L123.3 250.9L123.3 250.3L124.8 250.3L124.8 249.6L126.4 249.6L126.4 248.9L127.5 248.9L127.5 248.8L128.8 248.8L128.8 247.6L130.3 247.6L130.3 247.4L132 247.4L132 246.5L133.6 246.5L133.6 245.4L135.4 245.4L135.4 244.5L136.4 244.5L136.4 243.6L137.5 243.6L137.5 243.4L139.6 243.4L139.6 242.5L140.9 242.5L140.9 241.1L142.5 241.1L142.5 239.8L143.7 239.8L143.7 239L145.3 239L145.3 237.7L146.5 237.7L146.5 236.2L148.1 236.2L148.1 235.4L149.9 235.4L149.9 234.5L151.3 234.5L151.3 234.4L152.4 234.4L152.4 234L153.9 234L153.9 233.1L154.8 233.1L154.8 231.7L155.6 231.7L155.6 229.9L156.6 229.9L156.6 228.8L158.3 228.8L158.3 227.7L161.4 227.7L161.4 226.8L162.4 226.8L162.4 226.2L163.6 226.2L163.6 226L165 226L165 225.6L166.6 225.6L166.6 223.6L168.1 223.6L168.1 222.9L169.9 222.9L169.9 221.4L171.9 221.4L171.9 220.4L173 220.4L173 220.1L174.8 220.1L174.8 218.8L176.5 218.8L176.5 218.7L179.8 218.7L179.8 217.8L180.9 217.8L180.9 217.6L182.1 217.6L182.1 215.6L182.5 215.6L182.5 214.1L183.1 214.1L183.1 212.7L184.3 212.7L184.3 211.4L185.7 211.4L185.7 210.5L186.6 210.5L186.6 208.9L187.6 208.9L187.6 207.3L188.6 207.3L188.6 206.2L189.6 206.2L189.6 205.2L191.2 205.2L191.2 204.5L192.7 204.5L192.7 203.6L193.8 203.6L193.8 203.1L195.7 203.1L195.7 202.3L197.1 202.3L197.1 201.3L199.2 201.3L199.2 200.7L200.6 200.7L200.6 199.2L201.7 199.2L201.7 198.3L205.4 198.3L205.4 198.1L210.5 198.1L210.5 197.7L211.9 197.7L211.9 197.4L215.4 197.4L215.4 196.8L216.6 196.8L216.6 196.7L220.1 196.7L220.1 194.9L223.4 194.9L223.4 194L224.4 194L224.4 193.7L227.4 193.7L227.4 192.6L228.6 192.6L228.6 192.5L229.8 192.5L229.8 191.2L231.3 191.2L231.3 189.8L232.5 189.8L232.5 188.4L234 188.4L234 186.9L235.5 186.9L235.5 185.8L236.9 185.8L236.9 184.4L238 184.4L238 184.2L239.4 184.2L239.4 183.8L241 183.8L241 182.7L242.2 182.7L242.2 181.5L243.3 181.5L243.3 180.4L244.9 180.4L244.9 179.5L246.2 179.5L246.2 177.9L248.1 177.9L248.1 176.6L249.6 176.6L249.6 176L251.7 176L251.7 175.8L255.1 175.8L255.1 174.5L258.2 174.5L258.2 173.8L259.3 173.8L259.3 173.4L262.1 173.4L262.1 172.8L264 172.8L264 171.9L267.1 171.9L267.1 171L269.3 171L269.3 169.8L272.7 169.8L272.7 169.2L275 169.2L275 168.3L276 168.3L276 167.8L278.4 167.8L278.4 167.1L281.5 167.1L281.5 166.3L284.2 166.3L284.2 165.5L287.8 165.5L287.8 165.1L291.2 165.1L291.2 164.3L293.6 164.3L293.6 163.3L296.9 163.3L296.9 161.7L298 161.7L298 160.8L299.1 160.8L299.1 160.7L300.3 160.7L300.3 160.3L302.9 160.3L302.9 159.2L305.6 159.2L305.6 158.7L309 158.7L309 158.1L310.9 158.1L310.9 156.3L312 156.3L312 154.8L313.1 154.8L313.1 153.8L314.4 153.8L314.4 152.4L316.1 152.4L316.1 151.1L318 151.1L318 150.3L321.6 150.3L321.6 148.9L324.5 148.9L324.5 147.4L326.4 147.4L326.4 146.6L328.6 146.6L328.6 145.1L329.9 145.1L329.9 144.9L331.4 144.9L331.4 143.4L332.9 143.4L332.9 142.1L334.9 142.1L334.9 141.6L336.1 141.6L336.1 141.2L347 141.2L347 140.5L348.1 140.5L348.1 140.1L354.3 140.1L354.3 139.7L356.5 139.7L356.5 139.5L359.4 139.5L359.4 139L371.1 139L371.1 138.3L373 138.3L373 138L376.5 138L376.5 137.5L379.2 137.5L379.2 136.9L382.4 136.9L382.4 136L385.2 136L385.2 134.6L391 134.6L391 134.6L394.4 134.6L394.4 134.3L397.8 134.3L397.8 134L403.6 134L403.6 132L406 132L406 131.2L408.3 131.2L408.3 130.3L409.9 130.3L409.9 129.7L413.5 129.7L413.5 129.5L415.7 129.5L415.7 129L418.3 129L418.3 127.7L420.4 127.7L420.4 127L422.2 127L422.2 126.6L423.9 126.6L423.9 126.4L431.3 126.4L431.3 125.9L447.6 125.9L447.6 126.4L447.6 126.4L447.6 123.5L450.5 123.5L450.5 121.1L473.8 121.1L473.8 117.9L502.6 117.9L502.6 117.9L502.6 117.9L502.6 113.5" fill="none" stroke="#f9821e" stroke-width="1.7" stroke-linejoin="miter"/>
<line x1="44.5" x2="44.5" y1="65" y2="276.0" stroke="#1a1a1a" stroke-width="1.2"/>
<line x1="44" x2="533" y1="275.5" y2="275.5" stroke="#1a1a1a" stroke-width="1.2"/>
<line x1="38" x2="44.5" y1="266.6" y2="266.6" stroke="#1a1a1a" stroke-width="1.2"/>
<text x="32.0" y="266.6" font-size="13.5" fill="#1a1a1a" stroke="#1a1a1a" stroke-width="0.1" text-anchor="middle" transform="rotate(-90 32.0 266.6)">0</text>
<line x1="38" x2="44.5" y1="218.5" y2="218.5" stroke="#1a1a1a" stroke-width="1.2"/>
<text x="32.0" y="218.5" font-size="13.5" fill="#1a1a1a" stroke="#1a1a1a" stroke-width="0.1" text-anchor="middle" transform="rotate(-90 32.0 218.5)">5</text>
<line x1="38" x2="44.5" y1="170.4" y2="170.4" stroke="#1a1a1a" stroke-width="1.2"/>
<text x="32.0" y="170.4" font-size="13.5" fill="#1a1a1a" stroke="#1a1a1a" stroke-width="0.1" text-anchor="middle" transform="rotate(-90 32.0 170.4)">10</text>
<line x1="38" x2="44.5" y1="122.3" y2="122.3" stroke="#1a1a1a" stroke-width="1.2"/>
<text x="32.0" y="122.3" font-size="13.5" fill="#1a1a1a" stroke="#1a1a1a" stroke-width="0.1" text-anchor="middle" transform="rotate(-90 32.0 122.3)">15</text>
<line x1="38" x2="44.5" y1="74.2" y2="74.2" stroke="#1a1a1a" stroke-width="1.2"/>
<text x="32.0" y="74.2" font-size="13.5" fill="#1a1a1a" stroke="#1a1a1a" stroke-width="0.1" text-anchor="middle" transform="rotate(-90 32.0 74.2)">20</text>
<line x1="52.7" x2="52.7" y1="275.5" y2="281.0" stroke="#1a1a1a" stroke-width="1.2"/>
<text x="52.7" y="292.9" font-size="13.5" fill="#1a1a1a" stroke="#1a1a1a" stroke-width="0.1" text-anchor="middle">0</text>
<line x1="202.8" x2="202.8" y1="275.5" y2="281.0" stroke="#1a1a1a" stroke-width="1.2"/>
<text x="202.8" y="292.9" font-size="13.5" fill="#1a1a1a" stroke="#1a1a1a" stroke-width="0.1" text-anchor="middle">5</text>
<line x1="352.9" x2="352.9" y1="275.5" y2="281.0" stroke="#1a1a1a" stroke-width="1.2"/>
<text x="352.9" y="292.9" font-size="13.5" fill="#1a1a1a" stroke="#1a1a1a" stroke-width="0.1" text-anchor="middle">10</text>
<line x1="503" x2="503" y1="275.5" y2="281.0" stroke="#1a1a1a" stroke-width="1.2"/>
<text x="503" y="292.9" font-size="13.5" fill="#1a1a1a" stroke="#1a1a1a" stroke-width="0.1" text-anchor="middle">15</text>
<text x="14.8" y="39.5" font-size="19.2" fill="#111" stroke="#111" stroke-width="0.8" textLength="16.86" lengthAdjust="spacing">a)</text>
<text x="110.0" y="36.7" font-size="19" fill="#192f5e" stroke="#192f5e" stroke-width="0.1" textLength="364.18" lengthAdjust="spacing">Use of bladder-relaxing medication - TURB</text>
<text x="211.3" y="57.8" font-size="14.8" fill="#111" stroke="#111" stroke-width="0.35" textLength="166.58" lengthAdjust="spacing">cumulative incidence (%)</text>
<text x="227.5" y="307.7" font-size="13.5" fill="#1a1a1a" stroke="#1a1a1a" stroke-width="0.15" textLength="121.45" lengthAdjust="spacing">Analysis time, years</text>
<rect x="155.5" y="320.5" width="266" height="62.5" fill="#fff" stroke="#1a1a1a" stroke-width="1.2"/>
<line x1="160.5" x2="212.3" y1="332.4" y2="332.4" stroke="#184a7d" stroke-width="1.5"/>
<text x="220.0" y="336.2" font-size="13.5" fill="#1a1a1a" stroke="#1a1a1a" stroke-width="0.15" textLength="49.17" lengthAdjust="spacing">1 TURB</text>
<rect x="310.7" y="325.8" width="50" height="13" fill="#d0d5e5" stroke="#a3aac8" stroke-width="1.3"/>
<text x="364.6" y="336.5" font-size="13.5" fill="#1a1a1a" stroke="#1a1a1a" stroke-width="0.15" textLength="44.68" lengthAdjust="spacing">95% CI</text>
<line x1="160.5" x2="212.3" y1="351.6" y2="351.6" stroke="#3f7a29" stroke-width="1.5"/>
<text x="220.5" y="356.2" font-size="13.5" fill="#1a1a1a" stroke="#1a1a1a" stroke-width="0.15" textLength="67.43" lengthAdjust="spacing">2-4 TURBs</text>
<rect x="310.7" y="345.2" width="50" height="12.6" fill="#dbe3d3" stroke="#b9c6aa" stroke-width="1.3"/>
<text x="364.6" y="356.0" font-size="13.5" fill="#1a1a1a" stroke="#1a1a1a" stroke-width="0.15" textLength="44.68" lengthAdjust="spacing">95% CI</text>
<line x1="160.5" x2="212.3" y1="370.8" y2="370.8" stroke="#f9821e" stroke-width="1.5"/>
<text x="221.1" y="375.1" font-size="13.5" fill="#1a1a1a" stroke="#1a1a1a" stroke-width="0.15" textLength="66.46" lengthAdjust="spacing">&gt; 4 TURBs</text>
<rect x="310.7" y="364.3" width="50" height="13.1" fill="#fde3cb" stroke="#fac090" stroke-width="1.3"/>
<text x="364.6" y="375.0" font-size="13.5" fill="#1a1a1a" stroke="#1a1a1a" stroke-width="0.15" textLength="44.68" lengthAdjust="spacing">95% CI</text>
<rect x="4.5" y="423" width="541.5" height="393" fill="#e6f1f3"/>
<rect x="45" y="480" width="488" height="228.5" fill="#fff"/>
<line x1="45" x2="533" y1="700.5" y2="700.5" stroke="#e1eef0" stroke-width="1.2"/>
<line x1="45" x2="533" y1="647.4" y2="647.4" stroke="#e1eef0" stroke-width="1.2"/>
<line x1="45" x2="533" y1="594.4" y2="594.4" stroke="#e1eef0" stroke-width="1.2"/>
<line x1="45" x2="533" y1="541.3" y2="541.3" stroke="#e1eef0" stroke-width="1.2"/>
<line x1="45" x2="533" y1="488.2" y2="488.2" stroke="#e1eef0" stroke-width="1.2"/>
<path d="M52.9 700.5L53.5 700.5L53.5 698.8L54.1 698.8L54.1 698.2L54.8 698.2L54.8 697L55.4 697L55.4 695.2L56 695.2L56 694.2L56.6 694.2L56.6 693.5L57.2 693.5L57.2 691.6L57.7 691.6L57.7 690.6L58.3 690.6L58.3 689.1L59 689.1L59 687.8L59.8 687.8L59.8 686L60.7 686L60.7 684.4L61.6 684.4L61.6 683.7L62.5 683.7L62.5 682.6L63.3 682.6L63.3 681L64.3 681L64.3 679.6L65.3 679.6L65.3 678.5L66.3 678.5L66.3 677.1L67.3 677.1L67.3 675.5L68.3 675.5L68.3 674.6L69.3 674.6L69.3 673.8L70.5 673.8L70.5 672.1L71.7 672.1L71.7 670.6L72.9 670.6L72.9 670.3L74.8 670.3L74.8 669.2L76.6 669.2L76.6 668.4L78.2 668.4L78.2 668.1L79.5 668.1L79.5 667.7L81.4 667.7L81.4 666.6L82.4 666.6L82.4 665.2L83.4 665.2L83.4 664.5L85.5 664.5L85.5 663.9L87.5 663.9L87.5 662.2L89.4 662.2L89.4 661.7L91.4 661.7L91.4 661L92.5 661L92.5 659.8L94.5 659.8L94.5 659.2L96.6 659.2L96.6 658.7L101.6 658.7L101.6 656.1L103.7 656.1L103.7 655.5L105.1 655.5L105.1 654.1L106.8 654.1L106.8 653.7L108.2 653.7L108.2 652.5L110.4 652.5L110.4 652.2L114 652.2L114 650.7L120.5 650.7L120.5 648.8L122 648.8L122 648.4L127 648.4L127 645.9L130.8 645.9L130.8 645.2L133.9 645.2L133.9 644.2L138.5 644.2L138.5 642.2L140.7 642.2L140.7 641.7L144.2 641.7L144.2 640.6L146.7 640.6L146.7 640.4L149 640.4L149 639.7L154 639.7L154 637.8L155.3 637.8L155.3 637L156.6 637L156.6 636.1L158.1 636.1L158.1 635.6L160.8 635.6L160.8 635L164.8 635L164.8 634.2L168.9 634.2L168.9 632.8L172.9 632.8L172.9 631.7L174.4 631.7L174.4 631.3L176.9 631.3L176.9 631L181.2 631L181.2 629.6L184.1 629.6L184.1 628.9L186.5 628.9L186.5 627.8L192 627.8L192 627.4L196 627.4L196 626.3L204.7 626.3L204.7 625.5L210.1 625.5L210.1 625.1L211.4 625.1L211.4 624.6L214.4 624.6L214.4 623.4L218.2 623.4L218.2 621.9L222.5 621.9L222.5 621.4L223.8 621.4L223.8 621.3L226 621.3L226 620.9L230.1 620.9L230.1 620.3L234.7 620.3L234.7 618.7L239 618.7L239 617.1L243.2 617.1L243.2 616.1L245.4 616.1L245.4 615.3L248.8 615.3L248.8 614.9L250.7 614.9L250.7 614.2L255 614.2L255 613.5L259 613.5L259 613.2L262 613.2L262 611.9L263.8 611.9L263.8 611.7L268.1 611.7L268.1 611.6L271.4 611.6L271.4 610.5L275 610.5L275 610.5L282.6 610.5L282.6 609.3L285.7 609.3L285.7 608L287.2 608L287.2 607.1L291 607.1L291 607L296.5 607L296.5 606.4L301.9 606.4L301.9 605.3L303.5 605.3L303.5 604.3L305.8 604.3L305.8 604.1L311.3 604.1L311.3 602.8L316.1 602.8L316.1 602.1L322.9 602.1L322.9 601.2L328.1 601.2L328.1 599.6L329.3 599.6L329.3 599.1L334.3 599.1L334.3 598L336.2 598L336.2 597.2L337.9 597.2L337.9 596.9L343.1 596.9L343.1 596.5L347.5 596.5L347.5 595.8L349.4 595.8L349.4 595.6L351.4 595.6L351.4 595L354.1 595L354.1 594.6L358.1 594.6L358.1 593.9L362.2 593.9L362.2 592.9L366.7 592.9L366.7 592.6L370.5 592.6L370.5 592.4L375.3 592.4L375.3 590.5L379.3 590.5L379.3 589.2L383.3 589.2L383.3 588.5L388.2 588.5L388.2 587.5L393.4 587.5L393.4 586.5L394.7 586.5L394.7 586.1L416.2 586.1L416.2 585.3L420.6 585.3L420.6 584.4L423.8 584.4L423.8 584.3L426.7 584.3L426.7 584.2L427.9 584.2L427.9 583.8L432.1 583.8L432.1 582.6L436.2 582.6L436.2 582.1L443.8 582.1L443.8 581.8L446.8 581.8L446.8 581L449.7 581L449.7 580.7L454.6 580.7L454.6 579.6L461 579.6L461 578.6L470.4 578.6L470.4 578.5L483.1 578.5L483.1 577.3L487.5 577.3L487.5 577.1L488.5 577.1L488.5 576.6L489.1 576.6L489.1 576.8L489.1 576.8L489.1 576.4L502.2 576.4L502.2 574.6L510.2 574.6L510.2 572.3L523.3 572.3L523.3 572.3L523.3 589.5L523.3 589.5L510.2 589.5L510.2 590.2L502.2 590.2L502.2 590.9L489.1 590.9L489.1 591.6L489.1 591.6L489.1 591.6L467.9 591.6L467.9 591.7L465.2 591.7L465.2 592.4L462.6 592.4L462.6 593.1L455.3 593.1L455.3 593.7L451.9 593.7L451.9 594.4L439.2 594.4L439.2 594.4L436 594.4L436 594.8L428.2 594.8L428.2 595.7L423.4 595.7L423.4 596.6L418.1 596.6L418.1 597.2L416.2 597.2L416.2 597.5L412.4 597.5L412.4 598.2L407.6 598.2L407.6 598.9L392.1 598.9L392.1 599.6L389.6 599.6L389.6 599.7L388.3 599.7L388.3 600.3L381.5 600.3L381.5 601.4L377.9 601.4L377.9 602.8L373.6 602.8L373.6 602.9L370.7 602.9L370.7 603.2L365.3 603.2L365.3 603.6L356.5 603.6L356.5 604.2L354.7 604.2L354.7 605.4L352.8 605.4L352.8 605.8L348.5 605.8L348.5 607.3L343.5 607.3L343.5 607.8L338.6 607.8L338.6 609.1L336.3 609.1L336.3 610.2L331.5 610.2L331.5 610.7L327.5 610.7L327.5 611.2L323.1 611.2L323.1 611.4L320.7 611.4L320.7 613.2L315.3 613.2L315.3 613.5L312.6 613.5L312.6 614.4L309.6 614.4L309.6 615.8L304.8 615.8L304.8 616.1L292.4 616.1L292.4 617.1L285.6 617.1L285.6 618.2L281.5 618.2L281.5 618.4L277.5 618.4L277.5 619.2L274.3 619.2L274.3 620.5L269 620.5L269 621.3L260.4 621.3L260.4 622.2L258.8 622.2L258.8 623.7L254.8 623.7L254.8 623.8L253.4 623.8L253.4 623.9L252 623.9L252 624.9L246.7 624.9L246.7 625.5L239.5 625.5L239.5 626.2L235.8 626.2L235.8 626.6L232.5 626.6L232.5 628.5L227.2 628.5L227.2 629L222.8 629L222.8 630.9L217.5 630.9L217.5 632.2L212.4 632.2L212.4 632.3L209.1 632.3L209.1 633.1L206.9 633.1L206.9 633.9L201.8 633.9L201.8 635L199.3 635L199.3 635.1L194.3 635.1L194.3 635.8L190.6 635.8L190.6 636L187.1 636L187.1 637.8L182.2 637.8L182.2 638.4L177.7 638.4L177.7 640.1L173 640.1L173 641.5L169.1 641.5L169.1 642.2L164.9 642.2L164.9 642.8L160.8 642.8L160.8 643L158.8 643L158.8 643.7L157.7 643.7L157.7 645.1L152.6 645.1L152.6 645.7L147.8 645.7L147.8 647L143.3 647L143.3 647.9L141.9 647.9L141.9 649.7L138 649.7L138 650.2L134.9 650.2L134.9 651.1L130.3 651.1L130.3 651.6L126 651.6L126 652.4L123.9 652.4L123.9 653.4L119.6 653.4L119.6 654L116.8 654L116.8 654.7L115.2 654.7L115.2 655.8L112.5 655.8L112.5 657.1L110.4 657.1L110.4 657.7L108.8 657.7L108.8 658.7L106.8 658.7L106.8 659.7L103.8 659.7L103.8 661.3L101.7 661.3L101.7 661.8L100.4 661.8L100.4 663.2L95.4 663.2L95.4 663.3L94.3 663.3L94.3 665.1L92.2 665.1L92.2 665.4L90.7 665.4L90.7 666.6L88.5 666.6L88.5 667.8L86.8 667.8L86.8 668.3L85.1 668.3L85.1 669L83.6 669L83.6 670L81.5 670L81.5 671L80 671L80 671.4L78.4 671.4L78.4 672.4L76.4 672.4L76.4 672.6L74.6 672.6L74.6 673.4L73 673.4L73 674.7L71.3 674.7L71.3 675.4L70.1 675.4L70.1 677.2L68.4 677.2L68.4 678.8L67.3 678.8L67.3 679.8L66.3 679.8L66.3 680.7L65.2 680.7L65.2 682.7L64.2 682.7L64.2 683.9L63.2 683.9L63.2 685.1L62.3 685.1L62.3 686.5L61.3 686.5L61.3 687.9L60.4 687.9L60.4 689.1L59.4 689.1L59.4 690L58.6 690L58.6 691.8L57.9 691.8L57.9 692.9L57.2 692.9L57.2 694.2L56.5 694.2L56.5 695.5L55.8 695.5L55.8 696.7L55.1 696.7L55.1 698.3L54.4 698.3L54.4 699.4L53.6 699.4L53.6 700.5L52.9 700.5Z" fill="#cdc9eb" fill-opacity="0.5" stroke="#aba5df" stroke-opacity="0.5" stroke-width="1" stroke-linejoin="miter"/>
<line x1="523.3" x2="523.3" y1="566.9" y2="590.2" stroke="#e6e4f5" stroke-width="1"/>
<path d="M52.9 700.5L53.6 700.5L53.6 699L54.3 699L54.3 698.3L54.9 698.3L54.9 697.2L55.6 697.2L55.6 695.3L56.2 695.3L56.2 694.3L56.9 694.3L56.9 693.1L57.5 693.1L57.5 691.3L58.2 691.3L58.2 689.9L58.8 689.9L58.8 689.1L59.6 689.1L59.6 687.4L60.5 687.4L60.5 686.2L61.4 686.2L61.4 685.3L62.4 685.3L62.4 683.6L63.3 683.6L63.3 682.8L64.3 682.8L64.3 680.9L65.3 680.9L65.3 679.9L66.3 679.9L66.3 679.1L67.3 679.1L67.3 677.8L68.3 677.8L68.3 676.4L69.9 676.4L69.9 675.2L71.6 675.2L71.6 674L73.2 674L73.2 672.7L75.3 672.7L75.3 671.8L77.5 671.8L77.5 670.7L78.6 670.7L78.6 669.7L80 669.7L80 668.5L81.1 668.5L81.1 667.3L82.7 667.3L82.7 666.9L84.7 666.9L84.7 666.4L86.4 666.4L86.4 664.8L87.7 664.8L87.7 663.8L89.7 663.8L89.7 662.7L91.6 662.7L91.6 661.9L93.3 661.9L93.3 661.6L95.1 661.6L95.1 660.3L99.9 660.3L99.9 659.1L101.2 659.1L101.2 659L102.7 659L102.7 657.7L104.6 657.7L104.6 657.3L106.9 657.3L106.9 655.9L110.2 655.9L110.2 654.5L111.8 654.5L111.8 653.5L115.1 653.5L115.1 652.2L116.4 652.2L116.4 651.9L119.2 651.9L119.2 651.9L120.8 651.9L120.8 651.5L122.5 651.5L122.5 651.3L124.7 651.3L124.7 650.7L127.9 650.7L127.9 649.6L130.1 649.6L130.1 648.2L131.6 648.2L131.6 648L134.6 648L134.6 647.1L135.7 647.1L135.7 647L138.9 647L138.9 646.2L141.8 646.2L141.8 645.2L143.7 645.2L143.7 644.3L145.2 644.3L145.2 643.9L147.1 643.9L147.1 643.6L148.7 643.6L148.7 642.7L149.9 642.7L149.9 642.1L153 642.1L153 641.6L156.4 641.6L156.4 640.1L159.1 640.1L159.1 639.5L163.8 639.5L163.8 638.4L167 638.4L167 637.4L169.2 637.4L169.2 636.7L171.4 636.7L171.4 635.5L174.6 635.5L174.6 634.6L176.7 634.6L176.7 633.9L179.2 633.9L179.2 633.2L180.3 633.2L180.3 632.9L183.6 632.9L183.6 632.7L186.5 632.7L186.5 631.8L191.6 631.8L191.6 631.3L192.8 631.3L192.8 631L198.8 631L198.8 630.3L201.4 630.3L201.4 630L206.1 630L206.1 629.1L209 629.1L209 628.9L210.2 628.9L210.2 628.7L213.8 628.7L213.8 628.1L216.5 628.1L216.5 627.3L220.4 627.3L220.4 626.6L221.6 626.6L221.6 626.2L224.3 626.2L224.3 625.6L227.9 625.6L227.9 624.4L229.4 624.4L229.4 623.8L232.8 623.8L232.8 623.3L236.4 623.3L236.4 622.3L238.6 622.3L238.6 621.7L240.5 621.7L240.5 621.2L243.6 621.2L243.6 620L247.7 620L247.7 619.8L249.9 619.8L249.9 619.4L251.6 619.4L251.6 619.1L253.5 619.1L253.5 618.8L255.4 618.8L255.4 618.5L257.5 618.5L257.5 618.3L259.5 618.3L259.5 617.4L263 617.4L263 616.7L264.5 616.7L264.5 616.3L266 616.3L266 616.2L269.6 616.2L269.6 616.2L271.2 616.2L271.2 616L273.7 616L273.7 615.7L275.1 615.7L275.1 614.8L277.5 614.8L277.5 614.2L279.7 614.2L279.7 613.3L285.9 613.3L285.9 613.1L288 613.1L288 612.5L289.9 612.5L289.9 612.3L292.3 612.3L292.3 612L296.5 612L296.5 611.6L301.3 611.6L301.3 611.3L304.4 611.3L304.4 610.3L307.3 610.3L307.3 609.2L309.6 609.2L309.6 608.8L311.6 608.8L311.6 608L314.7 608L314.7 607.2L316.7 607.2L316.7 606.5L320 606.5L320 606.3L321.4 606.3L321.4 605.9L323.2 605.9L323.2 605.2L326.3 605.2L326.3 604.9L329.7 604.9L329.7 604.5L331.6 604.5L331.6 604.4L332.8 604.4L332.8 604.1L335.2 604.1L335.2 603.1L336.9 603.1L336.9 602.8L338.2 602.8L338.2 602.1L345.6 602.1L345.6 601.2L347.1 601.2L347.1 600.8L350.3 600.8L350.3 600.4L353.9 600.4L353.9 599.7L356.8 599.7L356.8 599.1L358.3 599.1L358.3 598.9L363.1 598.9L363.1 598L364.4 598L364.4 597.5L365.5 597.5L365.5 597L375.1 597L375.1 596.7L376.8 596.7L376.8 595.7L379.2 595.7L379.2 595.4L382.1 595.4L382.1 595.3L385.5 595.3L385.5 594.3L388.2 594.3L388.2 593.6L391.4 593.6L391.4 593.5L392.5 593.5L392.5 593.4L399 593.4L399 593.3L401.8 593.3L401.8 593.2L405.5 593.2L405.5 592.5L408.1 592.5L408.1 592.3L411.7 592.3L411.7 591.3L415.3 591.3L415.3 590.6L420.8 590.6L420.8 589.8L426 589.8L426 589.5L429.2 589.5L429.2 589.4L430.3 589.4L430.3 589L437 589L437 588.8L438.7 588.8L438.7 588.4L449 588.4L449 587.9L452 587.9L452 586.9L454.7 586.9L454.7 586.2L460.4 586.2L460.4 585.8L463.1 585.8L463.1 585.5L471.1 585.5L471.1 585.4L473.7 585.4L473.7 584.8L478.5 584.8L478.5 584.4L481.3 584.4L481.3 584.3L489.1 584.3L489.1 584.4L489.1 584.4L489.1 583.6L502.2 583.6L502.2 582.9L510.2 582.9L510.2 581.5L523.3 581.5L523.3 581.5L523.3 581.5L523.3 578.5" fill="none" stroke="#8079c8" stroke-width="1.7" stroke-linejoin="miter"/>
<path d="M58.2 700.5L58.6 700.5L58.6 698.4L59 698.4L59 696.9L59.4 696.9L59.4 695.5L59.8 695.5L59.8 693.2L60.7 693.2L60.7 691.6L62.1 691.6L62.1 690.4L63.4 690.4L63.4 688.9L64.7 688.9L64.7 688.2L66 688.2L66 686.8L67.3 686.8L67.3 685.3L68.6 685.3L68.6 683.7L69.4 683.7L69.4 682.5L70.3 682.5L70.3 681.7L71.4 681.7L71.4 679.9L72.5 679.9L72.5 678.4L73.6 678.4L73.6 678L74.7 678L74.7 676L75.7 676L75.7 675.1L77 675.1L77 674.5L78.3 674.5L78.3 673.4L79.6 673.4L79.6 671.9L80.9 671.9L80.9 669.9L82.5 669.9L82.5 669L83.7 669L83.7 668.4L84.9 668.4L84.9 668L86.5 668L86.5 666.3L88.2 666.3L88.2 665.6L89.7 665.6L89.7 663.9L91.5 663.9L91.5 663L92.7 663L92.7 662.1L94 662.1L94 660.7L95.3 660.7L95.3 659.8L96.6 659.8L96.6 658.8L97.6 658.8L97.6 656.5L98.3 656.5L98.3 655.3L99 655.3L99 653.9L99.7 653.9L99.7 651.8L100.8 651.8L100.8 650.4L102.2 650.4L102.2 648.6L103.6 648.6L103.6 648.1L104.9 648.1L104.9 647.1L106.3 647.1L106.3 646.1L107.8 646.1L107.8 645.3L109.2 645.3L109.2 643.3L110.3 643.3L110.3 641.8L111.5 641.8L111.5 641.5L112.7 641.5L112.7 640.9L114.3 640.9L114.3 639.3L115.3 639.3L115.3 637.8L117 637.8L117 636.4L118.6 636.4L118.6 634.6L119.6 634.6L119.6 633.7L121 633.7L121 632.4L122.6 632.4L122.6 631.4L124.3 631.4L124.3 630L125.8 630L125.8 628.7L127.5 628.7L127.5 627.5L128.9 627.5L128.9 627L130.3 627L130.3 625.8L131.4 625.8L131.4 625.1L132.7 625.1L132.7 623.7L134 623.7L134 621.7L135.3 621.7L135.3 619.8L136.6 619.8L136.6 618.7L137.9 618.7L137.9 617.9L139.1 617.9L139.1 616.4L140.4 616.4L140.4 615.3L141.7 615.3L141.7 614L144.2 614L144.2 612.7L145.2 612.7L145.2 612.2L150.1 612.2L150.1 611.4L154.5 611.4L154.5 609.6L155.4 609.6L155.4 609L156.2 609L156.2 607.3L157.1 607.3L157.1 605.4L158 605.4L158 604L159.8 604L159.8 602.7L161.3 602.7L161.3 602L163.2 602L163.2 601L164.8 601L164.8 600.9L166.6 600.9L166.6 600.7L167.7 600.7L167.7 600.2L169.6 600.2L169.6 599.9L171.7 599.9L171.7 599.3L175 599.3L175 597.8L177 597.8L177 597L179 597L179 595.4L180.8 595.4L180.8 594.7L182.6 594.7L182.6 593L184.4 593L184.4 591.9L186 591.9L186 590.4L187.5 590.4L187.5 589.8L189.5 589.8L189.5 589.3L191.1 589.3L191.1 587.9L195.5 587.9L195.5 586.4L197.8 586.4L197.8 585.2L201.4 585.2L201.4 584.4L204.1 584.4L204.1 583.4L207 583.4L207 582.9L212.1 582.9L212.1 581.4L214.2 581.4L214.2 580.5L217.1 580.5L217.1 579.8L219.5 579.8L219.5 579.3L222.9 579.3L222.9 578.5L228.3 578.5L228.3 576.3L230.4 576.3L230.4 574.7L236.5 574.7L236.5 574.1L238.4 574.1L238.4 572.9L239.9 572.9L239.9 571.7L241 571.7L241 571.7L242.2 571.7L242.2 571.2L244.2 571.2L244.2 570.3L245.7 570.3L245.7 569.7L247.8 569.7L247.8 568.3L249.6 568.3L249.6 567.2L251.4 567.2L251.4 566L252.4 566L252.4 565.4L254.3 565.4L254.3 564.3L256.2 564.3L256.2 563.4L258.2 563.4L258.2 563.1L260.1 563.1L260.1 561.7L261.4 561.7L261.4 561.3L263.6 561.3L263.6 560.2L267.8 560.2L267.8 559.7L272.7 559.7L272.7 559.2L276.2 559.2L276.2 558.5L281.7 558.5L281.7 557.4L286.1 557.4L286.1 556.1L291.4 556.1L291.4 555L296.9 555L296.9 553.7L300.6 553.7L300.6 552.1L302.4 552.1L302.4 550.9L303.7 550.9L303.7 550.5L305 550.5L305 549.2L306.7 549.2L306.7 548.4L307.8 548.4L307.8 547.4L309.7 547.4L309.7 546.5L311.5 546.5L311.5 544.9L312.6 544.9L312.6 544.5L314.3 544.5L314.3 543.4L315.3 543.4L315.3 542.8L317.3 542.8L317.3 541.7L319 541.7L319 540.4L320.4 540.4L320.4 539.4L321.5 539.4L321.5 539.4L322.8 539.4L322.8 538.5L324.5 538.5L324.5 537.3L326.5 537.3L326.5 536.2L329 536.2L329 535.6L333.9 535.6L333.9 535.6L339.2 535.6L339.2 534.2L343.8 534.2L343.8 533.6L354.4 533.6L354.4 533.4L360.6 533.4L360.6 533.2L363.3 533.2L363.3 533L363.3 533L363.3 531.6L368.7 531.6L368.7 528.4L374.2 528.4L374.2 526.6L404.7 526.6L404.7 524L411.3 524L411.3 520.7L418.9 520.7L418.9 516.4L473.9 516.4L473.9 516.4L473.9 556.7L473.9 556.7L418.9 556.7L418.9 558.9L411.3 558.9L411.3 561.1L404.7 561.1L404.7 563.3L374.2 563.3L374.2 564.4L368.7 564.4L368.7 566.6L363.3 566.6L363.3 567L341.6 567L341.6 567.6L338.3 567.6L338.3 568.3L336.6 568.3L336.6 568.7L332 568.7L332 569.2L328.1 569.2L328.1 571.1L323.3 571.1L323.3 572.7L318.8 572.7L318.8 574.1L315.4 574.1L315.4 575.3L313.3 575.3L313.3 576L311.4 576L311.4 577.4L310.3 577.4L310.3 578L308.8 578L308.8 578.1L307.3 578.1L307.3 578.3L306.3 578.3L306.3 579.8L299.7 579.8L299.7 580.7L298 580.7L298 581.6L294 581.6L294 582.6L291.4 582.6L291.4 583L286.3 583L286.3 583.9L281.1 583.9L281.1 584.5L277.4 584.5L277.4 585.2L276 585.2L276 586.7L270.6 586.7L270.6 587.4L266.9 587.4L266.9 588.2L263.2 588.2L263.2 588.7L260.3 588.7L260.3 590L255.8 590L255.8 591.4L253.3 591.4L253.3 592.2L252 592.2L252 593.8L250.1 593.8L250.1 594.1L248.2 594.1L248.2 594.2L247.2 594.2L247.2 595.5L246.1 595.5L246.1 597.6L243.5 597.6L243.5 598.9L240 598.9L240 599.8L236.3 599.8L236.3 600L234.7 600L234.7 601L232.9 601L232.9 601.7L229.3 601.7L229.3 602L228.2 602L228.2 603.7L223.2 603.7L223.2 604.2L217.6 604.2L217.6 605.8L212.5 605.8L212.5 606.3L207 606.3L207 607L205.7 607L205.7 608.2L203 608.2L203 608.5L198.4 608.5L198.4 609.3L196.4 609.3L196.4 611.4L191.8 611.4L191.8 613L187.7 613L187.7 614L186 614L186 614.8L185 614.8L185 614.8L183.9 614.8L183.9 617.6L178.6 617.6L178.6 617.8L176.6 617.8L176.6 619.1L172.4 619.1L172.4 620.4L168.4 620.4L168.4 621.1L165.2 621.1L165.2 621.6L163.7 621.6L163.7 623L161.9 623L161.9 624.3L160.7 624.3L160.7 624.9L158.8 624.9L158.8 625L157.1 625L157.1 626.4L156.1 626.4L156.1 628L154.4 628L154.4 629L152.9 629L152.9 629.9L151.8 629.9L151.8 631.6L148.6 631.6L148.6 632.3L146.5 632.3L146.5 633.9L141.7 633.9L141.7 634.9L140.1 634.9L140.1 636.1L138.4 636.1L138.4 636.3L137.3 636.3L137.3 637.7L135.4 637.7L135.4 639.2L134.3 639.2L134.3 640.1L133.1 640.1L133.1 641.1L132 641.1L132 642.2L130.9 642.2L130.9 644L129.6 644L129.6 644.8L128 644.8L128 646.2L126.3 646.2L126.3 647L124.4 647L124.4 648.7L122.5 648.7L122.5 649L121.1 649L121.1 650.3L119.8 650.3L119.8 652.2L118.6 652.2L118.6 653.7L117.3 653.7L117.3 654.6L115.8 654.6L115.8 655.7L114.7 655.7L114.7 657.1L113.1 657.1L113.1 657.8L111.4 657.8L111.4 659.7L109.4 659.7L109.4 660.3L107.8 660.3L107.8 661.4L106.3 661.4L106.3 662.8L104.2 662.8L104.2 663.5L102.3 663.5L102.3 663.9L101.2 663.9L101.2 665.3L99.6 665.3L99.6 666.5L98.3 666.5L98.3 668.5L96.8 668.5L96.8 669.6L95 669.6L95 669.9L93.9 669.9L93.9 671.6L92.2 671.6L92.2 672.8L91 672.8L91 673.5L89.4 673.5L89.4 674.9L88.2 674.9L88.2 675.3L86.6 675.3L86.6 677L85.2 677L85.2 678.8L83.9 678.8L83.9 680.4L82.6 680.4L82.6 680.9L81.6 680.9L81.6 682.2L80.3 682.2L80.3 683.8L79.2 683.8L79.2 684.8L77.9 684.8L77.9 686L76.7 686L76.7 687L75.3 687L75.3 687.2L74.2 687.2L74.2 688.5L72.5 688.5L72.5 689.5L70.9 689.5L70.9 691.2L69.7 691.2L69.7 692.4L68.9 692.4L68.9 693.9L68.1 693.9L68.1 694.9L66 694.9L66 696L64.5 696L64.5 697.4L63.3 697.4L63.3 698.5L61.5 698.5L61.5 699.6L59.8 699.6L59.8 700.5L58.2 700.5Z" fill="#f99797" fill-opacity="0.5" stroke="#eb3725" stroke-opacity="0.5" stroke-width="1" stroke-linejoin="miter"/>
<line x1="473.9" x2="473.9" y1="508.7" y2="556.7" stroke="#f9c3be" stroke-width="1"/>
<path d="M58.2 700.5L58.6 700.5L58.6 698.6L59 698.6L59 696.8L59.6 696.8L59.6 695.4L61.5 695.4L61.5 694.3L63.2 694.3L63.2 693.3L64.6 693.3L64.6 691.9L65.8 691.9L65.8 690L67.2 690L67.2 689.3L69.4 689.3L69.4 688.3L71.1 688.3L71.1 686.4L72.4 686.4L72.4 685.1L73.4 685.1L73.4 684.2L74.4 684.2L74.4 682.9L75.4 682.9L75.4 681.5L77.2 681.5L77.2 680.3L78.9 680.3L78.9 679.4L79.9 679.4L79.9 678.1L81 678.1L81 676.3L82 676.3L82 674.9L83.1 674.9L83.1 674L84.4 674L84.4 672.8L85.6 672.8L85.6 672L87.2 672L87.2 670.6L88.8 670.6L88.8 669.2L90.7 669.2L90.7 667.8L92.1 667.8L92.1 667.4L93.8 667.4L93.8 666.4L95.2 666.4L95.2 664.7L96.7 664.7L96.7 663.4L97.6 663.4L97.6 661.6L98.2 661.6L98.2 659.9L98.9 659.9L98.9 659L100 659L100 658.2L101.3 658.2L101.3 657.7L102.8 657.7L102.8 657L104.2 657L104.2 656.4L105.4 656.4L105.4 654.9L106.6 654.9L106.6 653.9L107.7 653.9L107.7 653.1L109.3 653.1L109.3 652.1L110.9 652.1L110.9 650.8L112.5 650.8L112.5 649.3L113.8 649.3L113.8 648.1L115.1 648.1L115.1 646.7L116.5 646.7L116.5 645.6L117.8 645.6L117.8 644.8L119.2 644.8L119.2 643.5L120.4 643.5L120.4 642.8L121.4 642.8L121.4 641.6L122.9 641.6L122.9 640.7L124.2 640.7L124.2 639.6L125.5 639.6L125.5 637.6L126.7 637.6L126.7 636.6L128.2 636.6L128.2 635.4L130.3 635.4L130.3 634.5L131.3 634.5L131.3 633.1L133.1 633.1L133.1 632.4L134.8 632.4L134.8 631.3L136.5 631.3L136.5 629.9L137.6 629.9L137.6 629.3L139.2 629.3L139.2 628.1L140.8 628.1L140.8 626.8L142.1 626.8L142.1 626L143.1 626L143.1 625.7L146.6 625.7L146.6 623.8L147.9 623.8L147.9 623.6L151.3 623.6L151.3 622L153.3 622L153.3 620.8L154.4 620.8L154.4 619.9L155.9 619.9L155.9 618.3L156.9 618.3L156.9 616.9L158.5 616.9L158.5 616.3L159.7 616.3L159.7 615.4L161.4 615.4L161.4 614.3L163.2 614.3L163.2 613.1L164.6 613.1L164.6 612.3L166.4 612.3L166.4 611.5L168.2 611.5L168.2 610.6L169.4 610.6L169.4 610.5L171.6 610.5L171.6 609.2L175 609.2L175 608.1L178.1 608.1L178.1 607L179.7 607L179.7 606.2L181.5 606.2L181.5 605.7L182.9 605.7L182.9 604.6L184.4 604.6L184.4 603.6L186.3 603.6L186.3 602.3L187.3 602.3L187.3 601.7L189.5 601.7L189.5 601.4L192.6 601.4L192.6 600.5L196.2 600.5L196.2 599.6L197.8 599.6L197.8 599.3L200.4 599.3L200.4 598.2L202.2 598.2L202.2 597.7L204.8 597.7L204.8 596.7L207.2 596.7L207.2 596.1L209.6 596.1L209.6 595.2L210.7 595.2L210.7 594.1L212.6 594.1L212.6 593.9L215.6 593.9L215.6 593L217.5 593L217.5 592.5L220.9 592.5L220.9 591.2L223.7 591.2L223.7 589.9L226 589.9L226 588.8L229.6 588.8L229.6 587.6L232.6 587.6L232.6 587.3L234.9 587.3L234.9 586.9L237.4 586.9L237.4 586.6L240.7 586.6L240.7 584.9L242.3 584.9L242.3 583.5L244.2 583.5L244.2 582.8L246.1 582.8L246.1 581.3L248.3 581.3L248.3 580.3L250.4 580.3L250.4 578.8L252 578.8L252 577.7L253.7 577.7L253.7 576.8L256.8 576.8L256.8 575.9L260 575.9L260 574.7L262.4 574.7L262.4 574L263.9 574L263.9 573.7L266.4 573.7L266.4 573L269.8 573L269.8 572.8L272.3 572.8L272.3 572.5L275.8 572.5L275.8 572.3L277.4 572.3L277.4 572.1L278.7 572.1L278.7 572L279.8 572L279.8 571.6L282.4 571.6L282.4 571.3L284.2 571.3L284.2 571.1L286 571.1L286 570.1L288.8 570.1L288.8 569.5L290.3 569.5L290.3 568.7L293.6 568.7L293.6 567.8L294.6 567.8L294.6 567.3L297.7 567.3L297.7 566.2L301.3 566.2L301.3 565.7L302.7 565.7L302.7 565L305.8 565L305.8 563.6L307.6 563.6L307.6 563.1L308.8 563.1L308.8 562.7L310.7 562.7L310.7 561L312.6 561L312.6 560.1L316.2 560.1L316.2 558.8L318.9 558.8L318.9 558.6L320.1 558.6L320.1 558.4L321.2 558.4L321.2 557.9L323.6 557.9L323.6 556.2L325.6 556.2L325.6 554.6L327.1 554.6L327.1 553.4L328.9 553.4L328.9 553.1L331.2 553.1L331.2 552.5L343.4 552.5L343.4 552.1L345.7 552.1L345.7 551.9L348.9 551.9L348.9 551.1L363.3 551.1L363.3 551.3L363.3 551.3L363.3 549.7L368.7 549.7L368.7 547.6L374.2 547.6L374.2 545.4L404.7 545.4L404.7 543.2L411.3 543.2L411.3 540.4L418.9 540.4L418.9 537.1L473.9 537.1L473.9 537.1L473.9 537.1L473.9 531.6" fill="none" stroke="#e2132d" stroke-width="1.8" stroke-linejoin="miter"/>
<line x1="44.5" x2="44.5" y1="480" y2="709.1" stroke="#1a1a1a" stroke-width="1.2"/>
<line x1="44" x2="533" y1="708.6" y2="708.6" stroke="#1a1a1a" stroke-width="1.2"/>
<line x1="38" x2="44.5" y1="700.5" y2="700.5" stroke="#1a1a1a" stroke-width="1.2"/>
<text x="32.0" y="700.5" font-size="13.5" fill="#1a1a1a" stroke="#1a1a1a" stroke-width="0.1" text-anchor="middle" transform="rotate(-90 32.0 700.5)">0</text>
<line x1="38" x2="44.5" y1="647.4" y2="647.4" stroke="#1a1a1a" stroke-width="1.2"/>
<text x="32.0" y="647.4" font-size="13.5" fill="#1a1a1a" stroke="#1a1a1a" stroke-width="0.1" text-anchor="middle" transform="rotate(-90 32.0 647.4)">5</text>
<line x1="38" x2="44.5" y1="594.4" y2="594.4" stroke="#1a1a1a" stroke-width="1.2"/>
<text x="32.0" y="594.4" font-size="13.5" fill="#1a1a1a" stroke="#1a1a1a" stroke-width="0.1" text-anchor="middle" transform="rotate(-90 32.0 594.4)">10</text>
<line x1="38" x2="44.5" y1="541.3" y2="541.3" stroke="#1a1a1a" stroke-width="1.2"/>
<text x="32.0" y="541.3" font-size="13.5" fill="#1a1a1a" stroke="#1a1a1a" stroke-width="0.1" text-anchor="middle" transform="rotate(-90 32.0 541.3)">15</text>
<line x1="38" x2="44.5" y1="488.2" y2="488.2" stroke="#1a1a1a" stroke-width="1.2"/>
<text x="32.0" y="488.2" font-size="13.5" fill="#1a1a1a" stroke="#1a1a1a" stroke-width="0.1" text-anchor="middle" transform="rotate(-90 32.0 488.2)">20</text>
<line x1="52.7" x2="52.7" y1="708.6" y2="714.1" stroke="#1a1a1a" stroke-width="1.2"/>
<text x="52.7" y="726.8" font-size="13.5" fill="#1a1a1a" stroke="#1a1a1a" stroke-width="0.1" text-anchor="middle">0</text>
<line x1="202.8" x2="202.8" y1="708.6" y2="714.1" stroke="#1a1a1a" stroke-width="1.2"/>
<text x="202.8" y="726.8" font-size="13.5" fill="#1a1a1a" stroke="#1a1a1a" stroke-width="0.1" text-anchor="middle">5</text>
<line x1="352.9" x2="352.9" y1="708.6" y2="714.1" stroke="#1a1a1a" stroke-width="1.2"/>
<text x="352.9" y="726.8" font-size="13.5" fill="#1a1a1a" stroke="#1a1a1a" stroke-width="0.1" text-anchor="middle">10</text>
<line x1="503" x2="503" y1="708.6" y2="714.1" stroke="#1a1a1a" stroke-width="1.2"/>
<text x="503" y="726.8" font-size="13.5" fill="#1a1a1a" stroke="#1a1a1a" stroke-width="0.1" text-anchor="middle">15</text>
<text x="17.8" y="453.9" font-size="18.6" fill="#111" stroke="#111" stroke-width="0.8" textLength="17.35" lengthAdjust="spacing">b)</text>
<text x="102.4" y="451.5" font-size="19" fill="#192f5e" stroke="#192f5e" stroke-width="0.1" textLength="348.89" lengthAdjust="spacing">Use of bladder-relaxing medication- BCG</text>
<text x="199.4" y="472.6" font-size="14.8" fill="#111" stroke="#111" stroke-width="0.35" textLength="170.19" lengthAdjust="spacing">Cumulative Incidence (%)</text>
<text x="192.6" y="741.6" font-size="13.5" fill="#1a1a1a" stroke="#1a1a1a" stroke-width="0.15" textLength="120.95" lengthAdjust="spacing">Analysis time, years</text>
<rect x="128" y="753.8" width="320.5" height="44.3" fill="#fff" stroke="#1a1a1a" stroke-width="1.2"/>
<line x1="133.4" x2="185" y1="766.4" y2="766.4" stroke="#8079c8" stroke-width="1.5"/>
<text x="192.6" y="770.5" font-size="13.5" fill="#1a1a1a" stroke="#1a1a1a" stroke-width="0.15" textLength="121.65" lengthAdjust="spacing">No BCG instillations</text>
<rect x="338" y="759.9" width="50.2" height="12.7" fill="#e6e4f5" stroke="#d5d2ef" stroke-width="1.2"/>
<text x="396.8" y="770.7" font-size="13.5" fill="#1a1a1a" stroke="#1a1a1a" stroke-width="0.15" textLength="45.48" lengthAdjust="spacing">95% CI</text>
<line x1="133.4" x2="185" y1="785.3" y2="785.3" stroke="#e2132d" stroke-width="1.5"/>
<text x="192.6" y="789.6" font-size="13.5" fill="#1a1a1a" stroke="#1a1a1a" stroke-width="0.15" textLength="100.55" lengthAdjust="spacing">BCG instillations</text>
<rect x="338" y="779" width="50.2" height="12.8" fill="#fccbcb" stroke="#f59b92" stroke-width="1.2"/>
<text x="396.8" y="789.8" font-size="13.5" fill="#1a1a1a" stroke="#1a1a1a" stroke-width="0.15" textLength="45.48" lengthAdjust="spacing">95% CI</text>
</svg></body></html>
